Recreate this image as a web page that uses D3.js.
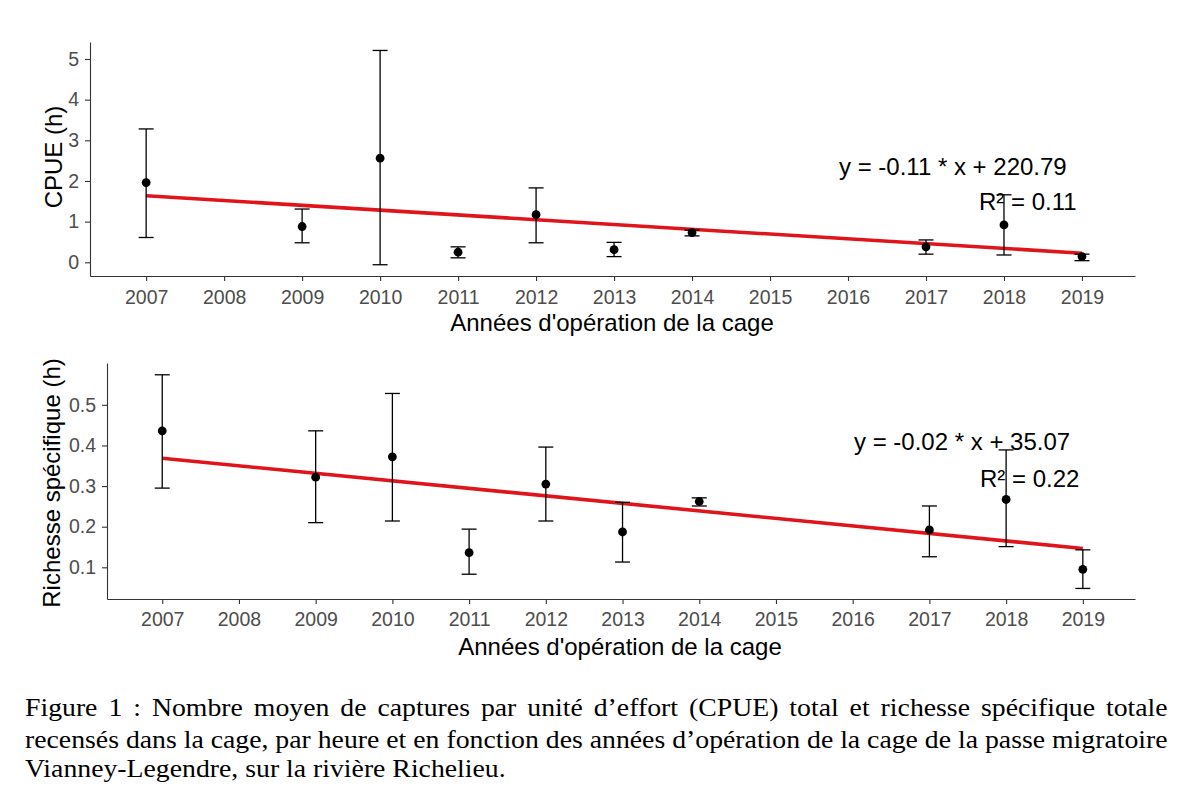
<!DOCTYPE html>
<html>
<head>
<meta charset="utf-8">
<script src="https://cdn.jsdelivr.net/npm/d3@7"></script>
<style>
  html, body { margin: 0; padding: 0; background: #fff; }
  svg { display: block; }
</style>
</head>
<body>
<svg id="chart" width="1200" height="799"></svg>
<script>
// ---------- DATA ----------
const years      = [2007, 2009, 2010, 2011, 2012, 2013, 2014, 2017, 2018, 2019];
const cpueMean   = [1.96, 0.88, 2.56, 0.25, 1.17, 0.31, 0.73, 0.38, 0.92, 0.14];
const cpueLow    = [0.61, 0.48, -0.06, 0.11, 0.48, 0.14, 0.65, 0.20, 0.18, 0.04];
const cpueHigh   = [3.28, 1.31, 5.21, 0.38, 1.83, 0.49, 0.79, 0.55, 1.66, 0.20];
const richMean   = [0.436, 0.322, 0.372, 0.136, 0.305, 0.187, 0.262, 0.192, 0.267, 0.095];
const richLow    = [0.295, 0.210, 0.214, 0.083, 0.214, 0.113, 0.251, 0.126, 0.151, 0.048];
const richHigh   = [0.574, 0.436, 0.528, 0.194, 0.396, 0.260, 0.271, 0.251, 0.389, 0.143];
const xTickYears = [2007, 2008, 2009, 2010, 2011, 2012, 2013, 2014, 2015, 2016, 2017, 2018, 2019];
const cpueTicks  = [0, 1, 2, 3, 4, 5];
const richTicks  = [0.1, 0.2, 0.3, 0.4, 0.5];
const xTitle     = "Années d'opération de la cage";
const cpueTitle  = "CPUE (h)";
const richTitle  = "Richesse spécifique (h)";
const cpueEq     = ["y = -0.11 * x + 220.79", "R² = 0.11"];
const richEq     = ["y = -0.02 * x + 35.07", "R² = 0.22"];
const captionLines = [
  "Figure 1 : Nombre moyen de captures par unité d’effort (CPUE) total et richesse spécifique totale",
  "recensés dans la cage, par heure et en fonction des années d’opération de la cage de la passe migratoire",
  "Vianney-Legendre, sur la rivière Richelieu."
];

// ---------- HELPERS ----------
function linfit(xs, ys) {
  const n = xs.length;
  const mx = d3.mean(xs), my = d3.mean(ys);
  let sxy = 0, sxx = 0;
  for (let i = 0; i < n; i++) { sxy += (xs[i]-mx)*(ys[i]-my); sxx += (xs[i]-mx)*(xs[i]-mx); }
  const b = sxy / sxx;
  return { b, a: my - b*mx };
}

const svg = d3.select("#chart");
const sans = "'Liberation Sans', Arial, sans-serif";

function panel(cfg) {
  const x = d3.scaleLinear().domain([2006.28, 2019.68]).range([cfg.left, cfg.right]);
  const y = d3.scaleLinear().domain(cfg.yDomain).range([cfg.bottom, cfg.top]);
  const g = svg.append("g");

  // axes
  const xa = g.append("g").attr("transform", `translate(0,${cfg.bottom})`)
    .call(d3.axisBottom(x).tickValues(xTickYears).tickFormat(d3.format("d"))
      .tickSize(5).tickSizeOuter(0).tickPadding(cfg.xPad));
  const ya = g.append("g").attr("transform", `translate(${cfg.left},0)`)
    .call(d3.axisLeft(y).tickValues(cfg.yTicks).tickFormat(cfg.yFmt)
      .tickSize(5).tickSizeOuter(0).tickPadding(6));
  [xa, ya].forEach(a => {
    a.select(".domain").attr("stroke", "#333").attr("stroke-width", 1.1);
    a.selectAll(".tick line").attr("stroke", "#333").attr("stroke-width", 1.1);
    a.selectAll(".tick text").attr("fill", "#4d4d4d")
      .style("font-family", sans).style("font-size", "19.5px");
  });

  // regression line
  const fit = linfit(years, cfg.mean);
  const x0 = d3.min(years), x1 = d3.max(years);
  g.append("line")
    .attr("x1", x(x0)).attr("y1", y(fit.a + fit.b*x0))
    .attr("x2", x(x1)).attr("y2", y(fit.a + fit.b*x1))
    .attr("stroke", "#e0141b").attr("stroke-width", 3.6);

  // error bars
  const eb = g.append("g").attr("stroke", "#000").attr("stroke-width", 1.3).attr("fill", "none");
  years.forEach((yr, i) => {
    const cx = x(yr);
    eb.append("line").attr("x1", cx).attr("x2", cx).attr("y1", y(cfg.low[i])).attr("y2", y(cfg.high[i]));
    eb.append("line").attr("x1", cx-7.5).attr("x2", cx+7.5).attr("y1", y(cfg.low[i])).attr("y2", y(cfg.low[i]));
    eb.append("line").attr("x1", cx-7.5).attr("x2", cx+7.5).attr("y1", y(cfg.high[i])).attr("y2", y(cfg.high[i]));
  });
  // points
  g.append("g").selectAll("circle").data(years).join("circle")
    .attr("cx", d => x(d)).attr("cy", (d, i) => y(cfg.mean[i])).attr("r", 4.4).attr("fill", "#000");

  // titles
  g.append("text").attr("x", cfg.xTitleX).attr("y", cfg.xTitleY).attr("text-anchor", "middle")
    .style("font-family", sans).style("font-size", "24px").attr("fill", "#000").text(xTitle);
  g.append("text").attr("transform", `translate(${cfg.yTitleX},${cfg.yTitleY}) rotate(-90)`)
    .attr("text-anchor", "middle")
    .style("font-family", sans).style("font-size", "24px").attr("fill", "#000").text(cfg.yTitle);

  // annotations
  cfg.eq.forEach((t, i) => {
    g.append("text").attr("x", cfg.eqPos[i][0]).attr("y", cfg.eqPos[i][1])
      .style("font-family", sans).style("font-size", "24px").attr("fill", "#000").text(t);
  });
}

panel({
  left: 90, right: 1135, top: 42, bottom: 276,
  yDomain: [-0.337, 5.418], yTicks: cpueTicks, yFmt: d3.format("d"),
  mean: cpueMean, low: cpueLow, high: cpueHigh,
  xPad: 9, xTitleX: 612, xTitleY: 331,
  yTitle: cpueTitle, yTitleX: 62, yTitleY: 157,
  eq: cpueEq, eqPos: [[839, 175], [979, 210]]
});
panel({
  left: 107, right: 1135, top: 363, bottom: 599,
  yDomain: [0.022, 0.603], yTicks: richTicks, yFmt: d3.format(".1f"),
  mean: richMean, low: richLow, high: richHigh,
  xPad: 8.5, xTitleX: 620, xTitleY: 655,
  yTitle: richTitle, yTitleX: 60, yTitleY: 483,
  eq: richEq, eqPos: [[854, 450], [980, 487]]
});

// ---------- CAPTION ----------
const capG = svg.append("g");
const capLeft = 25, capRight = 1168, capW = capRight - capLeft;
const baselines = [716.5, 748, 777];
const capTexts = captionLines.map((t, i) =>
  capG.append("text").attr("x", capLeft).attr("y", baselines[i])
    .style("font-family", "'Liberation Serif', 'Times New Roman', serif")
    .style("font-size", "25px").attr("fill", "#000").text(t));
// horizontal scale so that the second (tightest) justified line fits with natural spacing
const natural = capTexts.map(t => t.node().getComputedTextLength());
const s = capW / Math.max(natural[0], natural[1]);
capTexts.forEach((t, i) => {
  t.attr("transform", `translate(${capLeft},0) scale(${s},1) translate(${-capLeft},0)`);
  if (i < 2) {
    const spaces = (captionLines[i].match(/ /g) || []).length;
    const extra = (capW / s - natural[i]) / spaces;
    t.attr("word-spacing", extra);
  }
});
</script>
</body>
</html>
